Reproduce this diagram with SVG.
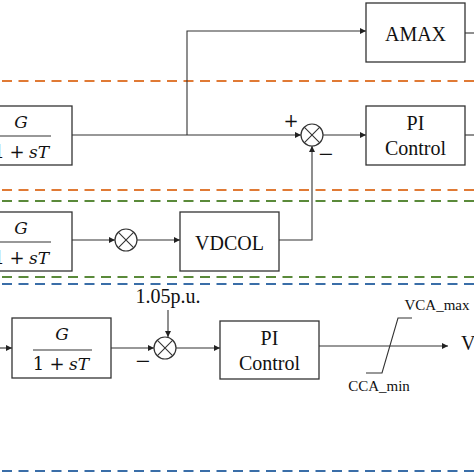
<svg xmlns="http://www.w3.org/2000/svg" width="474" height="474" viewBox="0 0 474 474">
<defs>
<marker id="ah" viewBox="0 0 10 10" refX="10" refY="5" markerWidth="7" markerHeight="6" markerUnits="userSpaceOnUse" orient="auto">
<path d="M0,0 L10,5 L0,10 z" fill="#222"/>
</marker>
<style>
.box{fill:#fff;stroke:#333;stroke-width:1.3}
.ln{fill:none;stroke:#333;stroke-width:1.1}
.arr{fill:none;stroke:#333;stroke-width:1.1;marker-end:url(#ah)}
.sum{fill:#fff;stroke:#333;stroke-width:1.2}
.t{font-family:"Liberation Serif","Times New Roman",serif;font-size:20px;fill:#111;text-anchor:middle}
.s{font-family:"Liberation Serif","Times New Roman",serif;font-size:15px;fill:#111;text-anchor:middle}
.m{font-family:"DejaVu Serif","Liberation Serif",serif;font-size:17px;fill:#111;text-anchor:middle;font-style:italic}
.n{font-family:"DejaVu Serif","Liberation Serif",serif;font-size:18px;fill:#111;text-anchor:middle}
.mi{font-family:"Liberation Serif","Times New Roman",serif;font-size:26px;fill:#111;text-anchor:middle}
.d{fill:none;stroke-width:2;stroke-dasharray:10 6.5}
</style>
</defs>
<rect width="474" height="474" fill="#fff"/>
<g id="separators">
<line class="d" x1="2" y1="81" x2="474" y2="81" stroke="#E07A35"/>
<line class="d" x1="2" y1="190" x2="474" y2="190" stroke="#E07A35"/>
<line class="d" x1="2" y1="201" x2="474" y2="201" stroke="#5A8A3A"/>
<line class="d" x1="2" y1="277" x2="474" y2="277" stroke="#5A8A3A"/>
<line class="d" x1="2" y1="284" x2="474" y2="284" stroke="#3A6EA8"/>
<line class="d" x1="2" y1="471" x2="474" y2="471" stroke="#3A6EA8"/>
</g>
<g id="connectors">
<polyline class="arr" points="187,135 187,31 366,31"/>
<line class="ln" x1="465" y1="33" x2="474" y2="33"/>
<line class="arr" x1="72" y1="135" x2="301" y2="135"/>
<line class="arr" x1="323" y1="135" x2="366" y2="135"/>
<line class="ln" x1="465" y1="135" x2="474" y2="135"/>
<line class="arr" x1="72" y1="240" x2="115" y2="240"/>
<line class="arr" x1="137" y1="240" x2="180" y2="240"/>
<polyline class="arr" points="279,240 312,240 312,146"/>
<line class="arr" x1="0" y1="348" x2="12" y2="348"/>
<line class="arr" x1="111" y1="348" x2="154" y2="348"/>
<line class="arr" x1="168" y1="310" x2="168" y2="337"/>
<line class="arr" x1="176" y1="348" x2="220" y2="348"/>
<line class="arr" x1="319" y1="346" x2="448" y2="346"/>
<polyline class="ln" points="366,373 382,373 398,318 412,318"/>
</g>
<g id="amax">
<rect class="box" x="366" y="3" width="99" height="59"/>
<text class="t" x="415.5" y="41">AMAX</text>
</g>
<g id="filter1">
<rect class="box" x="-27" y="106" width="99" height="59"/>
<text class="m" x="21" y="128">G</text>
<line class="ln" x1="-7" y1="136" x2="51" y2="136"/>
<text class="n" x="-1" y="158">1</text>
<text class="n" x="17" y="158">+</text>
<text class="m" x="39" y="158">sT</text>
</g>
<g id="sum1">
<circle class="sum" cx="312" cy="135" r="11"/>
<path class="ln" d="M304.2,127.2 L319.8,142.8 M319.8,127.2 L304.2,142.8"/>
<text class="n" x="291" y="127">+</text>
<text class="mi" x="326" y="163">−</text>
</g>
<g id="pi1">
<rect class="box" x="366" y="106" width="99" height="59"/>
<text class="t" x="415.5" y="130">PI</text>
<text class="t" x="415.5" y="155">Control</text>
</g>
<g id="filter2">
<rect class="box" x="-27" y="212" width="99" height="59"/>
<text class="m" x="21" y="234">G</text>
<line class="ln" x1="-7" y1="242" x2="51" y2="242"/>
<text class="n" x="-1" y="264">1</text>
<text class="n" x="17" y="264">+</text>
<text class="m" x="39" y="264">sT</text>
</g>
<g id="mult2">
<circle class="sum" cx="126" cy="240" r="11"/>
<path class="ln" d="M118.2,232.2 L133.8,247.8 M133.8,232.2 L118.2,247.8"/>
</g>
<g id="vdcol">
<rect class="box" x="180" y="212" width="99" height="59"/>
<text class="t" x="229.5" y="250">VDCOL</text>
</g>
<g id="filter3">
<rect class="box" x="12" y="318" width="99" height="60"/>
<text class="m" x="62" y="340">G</text>
<line class="ln" x1="33" y1="350" x2="92" y2="350"/>
<text class="n" x="38.5" y="370">1</text>
<text class="n" x="57" y="370">+</text>
<text class="m" x="79" y="370">sT</text>
</g>
<g id="sum3">
<circle class="sum" cx="165" cy="348" r="11"/>
<path class="ln" d="M157.2,340.2 L172.8,355.8 M172.8,340.2 L157.2,355.8"/>
<text class="t" x="168" y="303">1.05p.u.</text>
<text class="mi" x="143" y="370">−</text>
</g>
<g id="pi3">
<rect class="box" x="220" y="321" width="99" height="58"/>
<text class="t" x="269.5" y="345">PI</text>
<text class="t" x="269.5" y="370">Control</text>
</g>
<g id="limiter">
<text class="s" x="437" y="310">VCA_max</text>
<text class="s" x="379" y="391">CCA_min</text>
</g>
<g id="output">
<text class="t" x="461" y="350" style="text-anchor:start">V</text>
</g>
</svg>
